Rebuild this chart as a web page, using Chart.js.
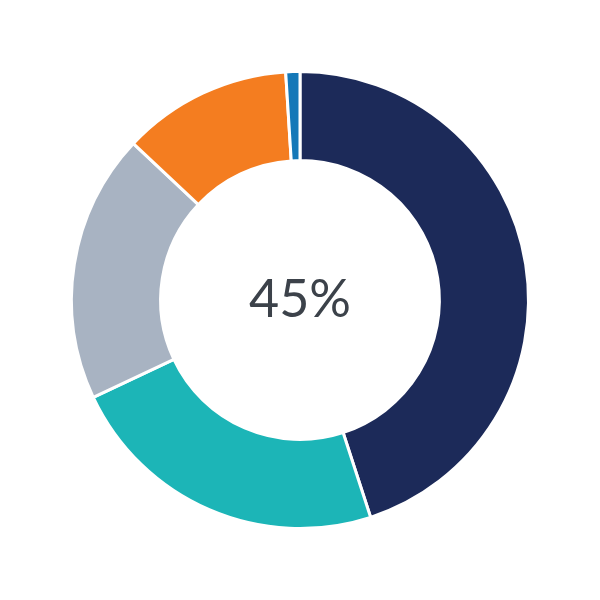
<!DOCTYPE html>
<html>
<head>
<meta charset="utf-8">
<script src="https://cdn.jsdelivr.net/npm/chart.js@4/dist/chart.umd.min.js"></script>
<style>
  html, body { margin: 0; padding: 0; background: #fff; }
  #wrap { width: 600px; height: 600px; }
</style>
</head>
<body>
<div id="wrap"><canvas id="myChart"></canvas></div>
<script>
var labels = ['A', 'B', 'C', 'D', 'E'];
var values = [45, 23, 19, 12, 1];
var colors = ['#1c2a59', '#1cb5b7', '#a8b3c2', '#f47d20', '#1478b8'];
var centerText = '45%';

var centerLabel = {
    id: 'centerLabel',
    afterDraw: function (chart) {
        var meta = chart.getDatasetMeta(0).data[0];
        var ctx = chart.ctx;
        ctx.save();
        ctx.font = '400 52px Lato';
        ctx.fillStyle = '#3c424a';
        ctx.textAlign = 'center';
        ctx.textBaseline = 'middle';
        ctx.fillText(centerText, meta.x, meta.y);
        ctx.restore();
    }
};

var myChart = new Chart(document.getElementById('myChart'), {
    type: 'doughnut',
    data: {
        labels: labels,
        datasets: [{
            data: values,
            backgroundColor: colors,
            borderWidth: 3,
            borderColor: '#ffffff'
        }]
    },
    options: {
        responsive: true,
        maintainAspectRatio: false,
        animation: false,
        cutout: '61%',
        layout: { padding: 70 },
        plugins: {
            legend: { display: false },
            tooltip: { enabled: false }
        }
    },
    plugins: [centerLabel]
});
</script>
</body>
</html>
